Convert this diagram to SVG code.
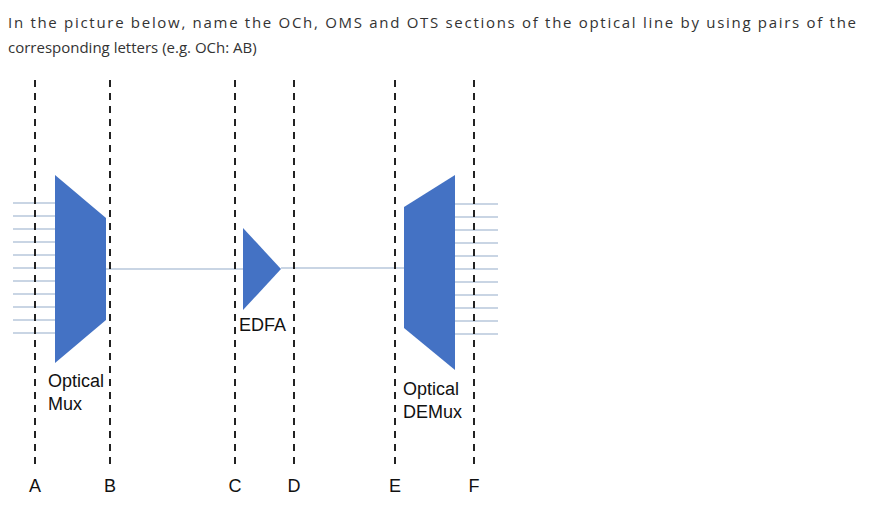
<svg xmlns="http://www.w3.org/2000/svg" width="875" height="521" viewBox="0 0 875 521">
<style>
.q{font-family:"Open Sans",sans-serif;font-size:15px;fill:#333}
.l{font-family:"Liberation Sans",Arial,sans-serif;font-size:18px;fill:#111}
.d{stroke:#222;stroke-width:2;stroke-dasharray:7,6}
.f{stroke:#b8c8dc;stroke-width:1.5}
.b{fill:#4472c4}
</style>
<rect width="875" height="521" fill="#fff"/>
<text class="q" x="8" y="28" textLength="848" lengthAdjust="spacing">In the picture below, name the OCh, OMS and OTS sections of the optical line by using pairs of the</text>
<text class="q" x="8" y="53">corresponding letters (e.g. OCh: AB)</text>
<g id="fibers">
<path class="f" d="M13 203H55M13 216H55M13 229H55M13 242H55M13 255H55M13 268H55M13 281H55M13 294H55M13 307H55M13 320H55M13 333H55"/>
<path class="f" d="M455 204H498M455 217H498M455 230H498M455 243H498M455 256H498M455 269H498M455 282H498M455 295H498M455 308H498M455 321H498M455 334H498"/>
<path class="f" d="M106 269H243M281 268H404"/>
</g>
<g id="mux"><polygon class="b" points="55,175 106,218 106,320 55,363"/><text class="l" x="48" y="387">Optical</text><text class="l" x="48" y="410">Mux</text></g>
<g id="edfa"><polygon class="b" points="243,228 281,269 243,310"/><text class="l" x="239" y="331">EDFA</text></g>
<g id="demux"><polygon class="b" points="404,207 455,175 455,370 404,328"/><text class="l" x="403" y="395">Optical</text><text class="l" x="403" y="418">DEMux</text></g>
<g id="connectors">
<path class="d" d="M35 80V470M110 80V470M235 80V470M294 80V470M395 80V470M474 80V470"/>
</g>
<g id="labels">
<text class="l" x="35" y="492" text-anchor="middle">A</text>
<text class="l" x="110" y="492" text-anchor="middle">B</text>
<text class="l" x="235" y="492" text-anchor="middle">C</text>
<text class="l" x="294" y="492" text-anchor="middle">D</text>
<text class="l" x="395" y="492" text-anchor="middle">E</text>
<text class="l" x="474" y="492" text-anchor="middle">F</text>
</g>
</svg>
